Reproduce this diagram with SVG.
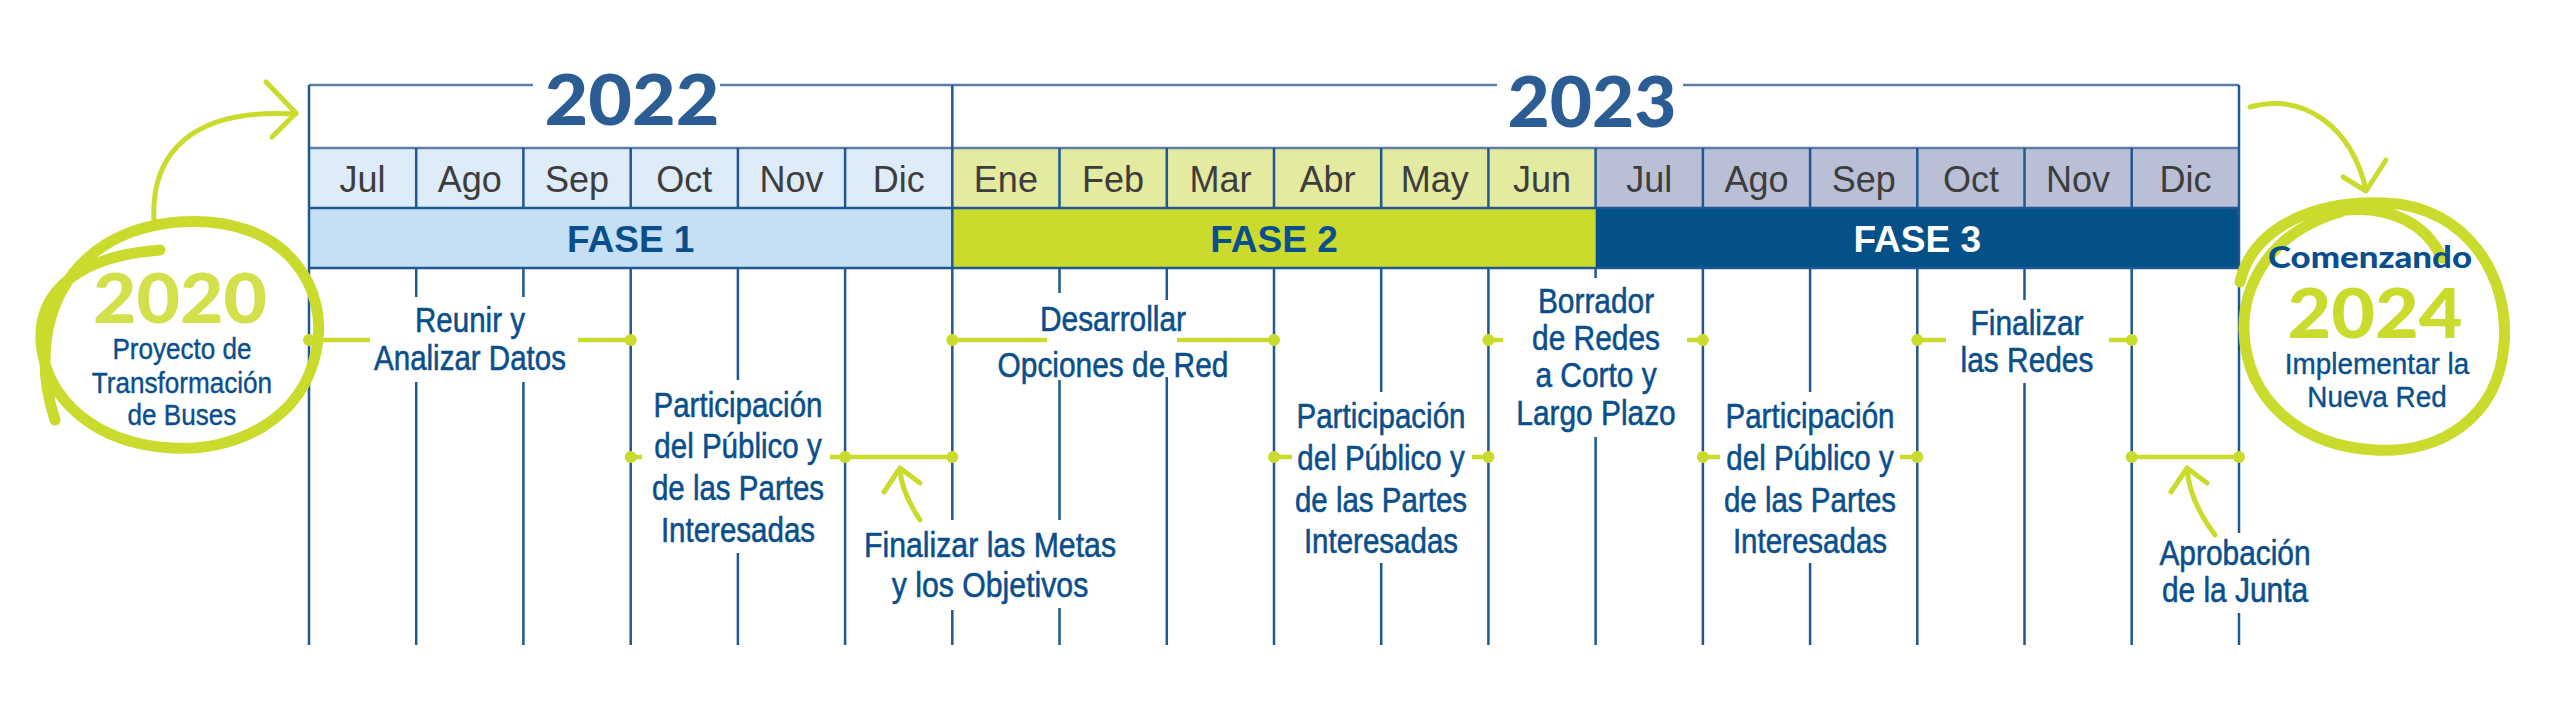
<svg xmlns="http://www.w3.org/2000/svg" width="2550" height="717" viewBox="0 0 2550 717">
<style>
.mon{font-family:"Liberation Sans",Arial,sans-serif;font-size:36px;fill:#3d3d3d;text-anchor:middle}
.fase{font-family:"Liberation Sans",Arial,sans-serif;font-size:37px;font-weight:bold;text-anchor:middle}
.act{font-family:"Liberation Sans",Arial,sans-serif;font-size:36px;fill:#0a4f8b;stroke:#0a4f8b;stroke-width:0.6;text-anchor:middle}
.circ{font-family:"Liberation Sans",Arial,sans-serif;fill:#0a4f8b;stroke:#0a4f8b;stroke-width:0.4;text-anchor:middle}
.year{font-family:Lato,"DejaVu Sans",sans-serif;font-weight:900;font-size:70px;fill:#2b5c94;text-anchor:middle}
.grid{stroke:#1f5892;stroke-width:2.5;fill:none}
.thin{stroke:#5c7fa8;stroke-width:2.5;fill:none}
.lime{stroke:#cbdb2e;stroke-width:4.5;fill:none}
.dot{fill:#cbdb2e}
.hand{stroke:#cbdb2e;stroke-width:5;fill:none;stroke-linecap:round;stroke-linejoin:round}
.ring{stroke:#cbdb2e;stroke-width:11;fill:none;stroke-linecap:round}
</style>
<rect width="2550" height="717" fill="#ffffff"/>

<g id="header">
  <rect x="309" y="148" width="643.3" height="60" fill="#deebf9"/>
  <rect x="952.3" y="148" width="643.3" height="60" fill="#e4ea9f"/>
  <rect x="1595.6" y="148" width="643.4" height="60" fill="#b9c0d6"/>
  <rect x="309" y="208" width="643.3" height="60" fill="#c5dff4"/>
  <rect x="952.3" y="208" width="643.3" height="60" fill="#cbdb2e"/>
  <rect x="1595.6" y="208" width="643.4" height="60" fill="#045089"/>
  <path class="thin" d="M309,85 H533 M720,85 H1497 M1683,85 H2239 M309,148 H2239"/>
  <path class="grid" d="M952.3,85 V148"/>
  <path class="grid" d="M309,208 H2239 M309,268 H2239"/>
  <path class="grid" d="M416.2,148 V208 M523.4,148 V208 M630.7,148 V208 M737.9,148 V208 M845.1,148 V208 M952.3,148 V268 M1059.5,148 V208 M1166.8,148 V208 M1274,148 V208 M1381.2,148 V208 M1488.4,148 V208 M1595.6,148 V208 M1702.9,148 V208 M1810.1,148 V208 M1917.3,148 V208 M2024.5,148 V208 M2131.7,148 V208"/>
  <text class="year" x="632" y="125" textLength="175" lengthAdjust="spacingAndGlyphs">2022</text>
  <text class="year" x="1592" y="127" textLength="169" lengthAdjust="spacingAndGlyphs">2023</text>
  <text class="mon" x="362.6" y="192">Jul</text>
  <text class="mon" x="469.8" y="192">Ago</text>
  <text class="mon" x="577" y="192">Sep</text>
  <text class="mon" x="684.3" y="192">Oct</text>
  <text class="mon" x="791.5" y="192">Nov</text>
  <text class="mon" x="898.7" y="192">Dic</text>
  <text class="mon" x="1005.9" y="192">Ene</text>
  <text class="mon" x="1113.1" y="192">Feb</text>
  <text class="mon" x="1220.4" y="192">Mar</text>
  <text class="mon" x="1327.6" y="192">Abr</text>
  <text class="mon" x="1434.8" y="192">May</text>
  <text class="mon" x="1542" y="192">Jun</text>
  <text class="mon" x="1649.2" y="192">Jul</text>
  <text class="mon" x="1756.5" y="192">Ago</text>
  <text class="mon" x="1863.7" y="192">Sep</text>
  <text class="mon" x="1970.9" y="192">Oct</text>
  <text class="mon" x="2078.1" y="192">Nov</text>
  <text class="mon" x="2185.4" y="192">Dic</text>
  <text class="fase" x="630.7" y="252" fill="#0a4f8b">FASE 1</text>
  <text class="fase" x="1274" y="252" fill="#0a4f8b">FASE 2</text>
  <text class="fase" x="1917.3" y="252" fill="#ffffff">FASE 3</text>
</g>

<g id="timeline-lines">
  <path class="grid" d="M309,85 V645
  M416.2,268 V297 M416.2,382 V645
  M523.4,268 V297 M523.4,382 V645
  M630.7,268 V645
  M737.9,268 V380 M737.9,553 V645
  M845.1,268 V645
  M952.3,268 V520 M952.3,610 V645
  M1059.5,268 V293 M1059.5,380 V520 M1059.5,608 V645
  M1166.8,268 V300 M1166.8,377 V645
  M1274,268 V645
  M1381.2,268 V392 M1381.2,563 V645
  M1488.4,268 V645
  M1595.6,268 V278 M1595.6,437 V645
  M1702.9,268 V645
  M1810.1,268 V392 M1810.1,563 V645
  M1917.3,268 V645
  M2024.5,268 V300 M2024.5,383 V645
  M2131.7,268 V645
  M2239,85 V533 M2239,613 V645"/>
</g>

<g id="connectors">
  <path class="lime" d="M309,340 H370 M578,340 H630.7
  M952.3,340 H1047 M1177,340 H1274
  M1488.4,340 H1503 M1687,340 H1702.9
  M1917.3,340 H1946 M2109,340 H2131.7
  M630.7,457 H642 M830,457 H952.3
  M1274,457 H1292 M1472,457 H1488.4
  M1702.9,457 H1720 M1900,457 H1917.3
  M2131.7,457 H2239"/>
  <circle class="dot" cx="309" cy="340" r="6"/>
  <circle class="dot" cx="630.7" cy="340" r="6"/>
  <circle class="dot" cx="952.3" cy="340" r="6"/>
  <circle class="dot" cx="1274" cy="340" r="6"/>
  <circle class="dot" cx="1488.4" cy="340" r="6"/>
  <circle class="dot" cx="1702.9" cy="340" r="6"/>
  <circle class="dot" cx="1917.3" cy="340" r="6"/>
  <circle class="dot" cx="2131.7" cy="340" r="6"/>
  <circle class="dot" cx="630.7" cy="457" r="6"/>
  <circle class="dot" cx="845.1" cy="457" r="6"/>
  <circle class="dot" cx="952.3" cy="457" r="6"/>
  <circle class="dot" cx="1274" cy="457" r="6"/>
  <circle class="dot" cx="1488.4" cy="457" r="6"/>
  <circle class="dot" cx="1702.9" cy="457" r="6"/>
  <circle class="dot" cx="1917.3" cy="457" r="6"/>
  <circle class="dot" cx="2131.7" cy="457" r="6"/>
  <circle class="dot" cx="2239" cy="457" r="6"/>
  <path class="hand" d="M920,520 C910,505 901,488 900,469 M884,492 L900,468 L920,483"/>
  <path class="hand" d="M2215,535 C2200,515 2189,494 2187,469 M2171,492 L2187,468 L2207,483"/>
  <path class="hand" d="M154,222 C150,150 195,108 296,114 M266,82 L296,113 L272,137"/>
  <path class="hand" d="M2250,107 C2305,92 2352,128 2366,190 M2343,177 L2366,191 L2386,160"/>
</g>

<g id="act-reunir" transform="translate(470 0) scale(0.82 1)">
  <text class="act" x="0" y="332">Reunir y</text>
  <text class="act" x="0" y="370">Analizar Datos</text>
</g>
<g id="act-participacion-1" transform="translate(738 0) scale(0.82 1)">
  <text class="act" x="0" y="417">Participación</text>
  <text class="act" x="0" y="458">del Público y</text>
  <text class="act" x="0" y="500">de las Partes</text>
  <text class="act" x="0" y="542">Interesadas</text>
</g>
<g id="act-metas" transform="translate(990 0) scale(0.84 1)">
  <text class="act" x="0" y="557">Finalizar las Metas</text>
  <text class="act" x="0" y="597">y los Objetivos</text>
</g>
<g id="act-desarrollar" transform="translate(1113 0) scale(0.83 1)">
  <text class="act" x="0" y="331">Desarrollar</text>
  <text class="act" x="0" y="377">Opciones de Red</text>
</g>
<g id="act-participacion-2" transform="translate(1381 0) scale(0.82 1)">
  <text class="act" x="0" y="428">Participación</text>
  <text class="act" x="0" y="470">del Público y</text>
  <text class="act" x="0" y="512">de las Partes</text>
  <text class="act" x="0" y="553">Interesadas</text>
</g>
<g id="act-borrador" transform="translate(1596 0) scale(0.83 1)">
  <text class="act" x="0" y="313">Borrador</text>
  <text class="act" x="0" y="350">de Redes</text>
  <text class="act" x="0" y="387">a Corto y</text>
  <text class="act" x="0" y="425">Largo Plazo</text>
</g>
<g id="act-participacion-3" transform="translate(1810 0) scale(0.82 1)">
  <text class="act" x="0" y="428">Participación</text>
  <text class="act" x="0" y="470">del Público y</text>
  <text class="act" x="0" y="512">de las Partes</text>
  <text class="act" x="0" y="553">Interesadas</text>
</g>
<g id="act-finalizar-redes" transform="translate(2027 0) scale(0.83 1)">
  <text class="act" x="0" y="335">Finalizar</text>
  <text class="act" x="0" y="372">las Redes</text>
</g>
<g id="act-aprobacion" transform="translate(2235 0) scale(0.83 1)">
  <text class="act" x="0" y="565">Aprobación</text>
  <text class="act" x="0" y="602">de la Junta</text>
</g>

<g id="start-2020">
  <path class="ring" d="M55,420 C25,330 62,232 178,222 C290,214 330,292 316,352 C302,420 235,452 172,448 C98,444 46,402 41,342 C38,292 78,256 160,250"/>
  <text x="180" y="323" font-family="Lato,'DejaVu Sans',sans-serif" font-weight="900" font-size="68" fill="#d3e04b" text-anchor="middle" textLength="174" lengthAdjust="spacingAndGlyphs">2020</text>
  <g transform="translate(182 0) scale(0.9 1)">
    <text class="circ" x="0" y="359" font-size="29">Proyecto de</text>
    <text class="circ" x="0" y="393" font-size="29">Transformación</text>
    <text class="circ" x="0" y="425" font-size="29">de Buses</text>
  </g>
</g>

<g id="end-2024">
  <path class="ring" d="M2240,282 C2252,230 2310,200 2385,203 C2468,206 2510,278 2504,345 C2498,418 2440,454 2375,450 C2300,446 2246,400 2244,330 C2243,282 2272,232 2340,212"/>
  <path class="ring" d="M2345,210 C2392,206 2426,224 2442,258"/>
  <text x="2370" y="268" font-family="Lato,'DejaVu Sans',sans-serif" font-weight="900" font-size="30" fill="#0a4f8b" text-anchor="middle" textLength="204" lengthAdjust="spacingAndGlyphs">Comenzando</text>
  <text x="2375" y="338" font-family="Lato,'DejaVu Sans',sans-serif" font-weight="900" font-size="68" fill="#cbdb2e" text-anchor="middle" textLength="175" lengthAdjust="spacingAndGlyphs">2024</text>
  <g transform="translate(2377 0) scale(0.93 1)">
    <text class="circ" x="0" y="374" font-size="30">Implementar la</text>
    <text class="circ" x="0" y="407" font-size="30">Nueva Red</text>
  </g>
</g>
</svg>
